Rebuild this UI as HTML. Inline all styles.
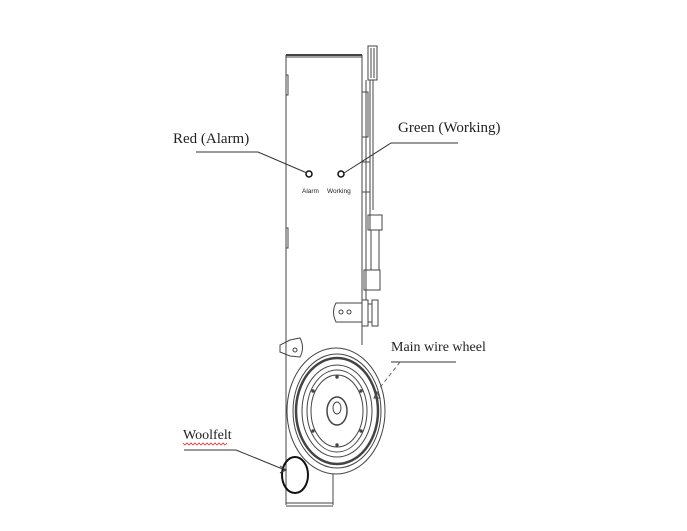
<!DOCTYPE html>
<html><head><style>
html,body{margin:0;padding:0;background:#fff;}
svg{display:block;}
text{font-family:"Liberation Serif",serif;fill:#222;}
</style></head><body>
<svg width="687" height="531" viewBox="0 0 687 531" xmlns="http://www.w3.org/2000/svg">
<g fill="none" stroke="#444" stroke-width="1">
<!-- body -->
<line x1="286" y1="55" x2="362" y2="55" stroke-width="2"/>
<line x1="286" y1="57" x2="362" y2="57"/>
<line x1="286" y1="55" x2="286" y2="505"/>
<line x1="362" y1="55" x2="362" y2="345"/>
<rect x="286" y="75" width="2" height="20"/>
<rect x="286" y="228" width="2" height="20"/>
<!-- rail -->
<line x1="366" y1="80" x2="366" y2="300"/>
<line x1="370" y1="80" x2="370" y2="230"/>
<line x1="373" y1="80" x2="373" y2="210"/>
<rect x="368" y="46" width="9" height="34"/>
<line x1="371" y1="48" x2="371" y2="78"/>
<line x1="374" y1="48" x2="374" y2="78"/>
<rect x="362" y="92" width="6" height="45"/>
<rect x="362" y="162" width="8" height="30"/>
<rect x="368" y="215" width="14" height="15"/>
<line x1="371" y1="230" x2="371" y2="270"/>
<line x1="379" y1="230" x2="379" y2="270"/>
<rect x="364" y="270" width="16" height="20"/>
<!-- tab with holes -->
<path d="M362 303 L336 303 Q331 312 336 322 L362 322 Z"/>
<circle cx="341" cy="312" r="2"/>
<circle cx="349" cy="312" r="2"/>
<rect x="362" y="300" width="6" height="26"/>
<rect x="368" y="304" width="4" height="18"/>
<rect x="372" y="300" width="6" height="26"/>
<!-- left tab -->
<path d="M290 340 L300 338 Q305 348 300 357 L290 356 L280 352 L280 345 Z"/>
<circle cx="295" cy="350" r="2"/>
<!-- bottom -->
<line x1="333" y1="470" x2="333" y2="505"/>
<line x1="286" y1="503" x2="333" y2="503"/>
<line x1="286" y1="506" x2="333" y2="506"/>
<!-- wheel -->
<ellipse cx="336" cy="411" rx="49" ry="63" fill="#fff"/>
<ellipse cx="337" cy="411" rx="44" ry="57"/>
<ellipse cx="337" cy="411" rx="41" ry="53" stroke-width="2.5"/>
<ellipse cx="337" cy="411" rx="35" ry="46"/>
<ellipse cx="337" cy="411" rx="30" ry="41"/>
<ellipse cx="337" cy="411" rx="26" ry="36"/>
<ellipse cx="337" cy="411" rx="10" ry="14" stroke-width="1.5"/>
<ellipse cx="337" cy="408" rx="4" ry="6"/>
<g fill="#444"><circle cx="337" cy="377" r="1.2"/><circle cx="337" cy="445" r="1.2"/><circle cx="313" cy="391" r="1.2"/><circle cx="361" cy="391" r="1.2"/><circle cx="313" cy="431" r="1.2"/><circle cx="361" cy="431" r="1.2"/></g>
<path d="M374 398 L377 392 L380 398 Z"/>
<!-- woolfelt -->
<ellipse cx="295" cy="475" rx="13" ry="18" stroke="#111" stroke-width="2"/>
<!-- indicators -->
<circle cx="309" cy="174" r="3" stroke="#111" stroke-width="1.5"/>
<circle cx="341" cy="174" r="3" stroke="#111" stroke-width="1.5"/>
<!-- leaders -->
<polyline points="196,152 258,152 307,173" stroke="#333"/>
<polyline points="458,143 391,143 344,173" stroke="#333"/>
<line x1="391" y1="362" x2="456" y2="362" stroke="#333"/>
<line x1="400" y1="362" x2="378" y2="390" stroke="#666" stroke-dasharray="4,3"/>
<polyline points="184,450 236,450 285,470" stroke="#333"/>
<path d="M280 466 L286 470 L280 473" stroke="#333"/>
</g>
<text x="173" y="143" font-size="15">Red (Alarm)</text>
<text x="398" y="132" font-size="15">Green (Working)</text>
<text x="391" y="351" font-size="14">Main wire wheel</text>
<text x="183" y="439" font-size="14">Woolfelt</text>
<path d="M183 443 l2 2 l2 -2 l2 2 l2 -2 l2 2 l2 -2 l2 2 l2 -2 l2 2 l2 -2 l2 2 l2 -2 l2 2 l2 -2 l2 2 l2 -2 l2 2 l2 -2 l2 2 l2 -2 l2 2 l2 -2" fill="none" stroke="#d33" stroke-width="0.8"/>
<text x="302" y="193" font-size="6.5" font-family="Liberation Sans,sans-serif" style="font-family:'Liberation Sans',sans-serif">Alarm</text>
<text x="327" y="193" font-size="6.5" style="font-family:'Liberation Sans',sans-serif">Working</text>
</svg>
</body></html>
